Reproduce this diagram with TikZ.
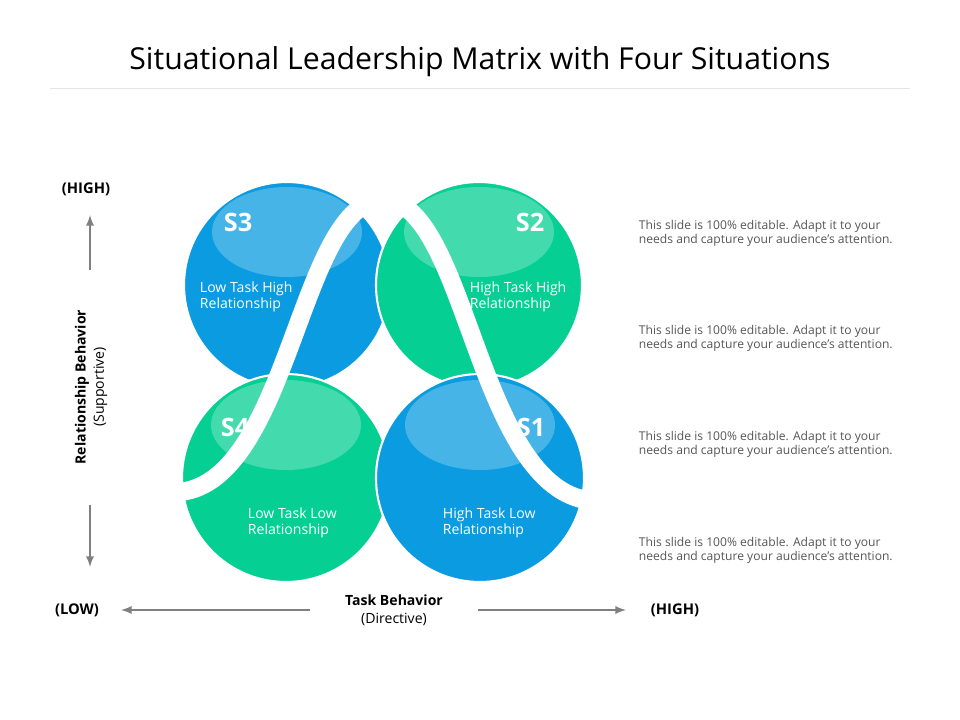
\documentclass[tikz,border=0pt]{standalone}
\usepackage{fontspec}
\setmainfont{Open Sans}
\usetikzlibrary{positioning}
\definecolor{sblue}{HTML}{0A9BE0}
\definecolor{sgreen}{HTML}{05CF92}
\definecolor{txtgray}{HTML}{555555}
\tikzset{
    blob/.style ={
        draw=white,
        line width=1.5pt
    },
    tag/.style ={
        text=white,
        font=\bfseries\fontsize{18}{20}\selectfont
    },
    label/.style ={
        text=white,
        align=left,
        anchor=north west,
        font=\fontsize{10}{11.5}\selectfont
    },
    note/.style ={
        text=txtgray,
        align=left,
        anchor=north west,
        font=\fontsize{8.6}{10}\selectfont
    },
    axis/.style ={
        draw=gray,
        line width=1.6pt,
        -latex
    }
}
\begin{document}
\begin{tikzpicture}[x=0.025cm,y=-0.025cm]
    \useasboundingbox (0,0) rectangle (960,720);
    \node[font=\fontsize{21.5}{24}\selectfont] (title) at (480,62) {Situational Leadership Matrix with Four Situations};
    \draw[gray!20] (50,88) -- (910,88);
    % circles
    \fill[sblue,blob] (287,285) circle (103);
    \fill[sgreen,blob] (479,285) circle (103);
    \fill[sgreen,blob] (286,478) circle (104);
    \fill[sblue,blob] (480,478) circle (104);
    % gloss
    \fill[white,opacity=0.25] (287,232) ellipse (75 and 45);
    \fill[white,opacity=0.25] (479,232) ellipse (75 and 45);
    \fill[white,opacity=0.25] (286,425) ellipse (75 and 45);
    \fill[white,opacity=0.25] (480,425) ellipse (75 and 45);
    % curve
    \draw[white,line width=13pt] (180,492) .. controls (290,480) and (300,200) .. (383,200)
        .. controls (466,200) and (476,480) .. (586,500);
    % tags
    \node[tag] (s3) at (238,222) {S3};
    \node[tag] (s2) at (530,222) {S2};
    \node[tag] (s4) at (235,427) {S4};
    \node[tag] (s1) at (531,427) {S1};
    \node[label] (l3) at (195,277) {Low Task High\\Relationship};
    \node[label] (l2) at (465,277) {High Task High\\Relationship};
    \node[label] (l4) at (243,503) {Low Task Low\\Relationship};
    \node[label] (l1) at (438,503) {High Task Low\\Relationship};
    % notes
    \foreach \y/\n in {215/a,320/b,426/c,532/d}
        \node[note] (n\n) at (634,\y) {This slide is 100\% editable. Adapt it to your\\needs and capture your audience's attention.};
    % axes
    \node[font=\bfseries\fontsize{10.5}{12}\selectfont] (yhigh) at (86,189) {(HIGH)};
    \node[font=\bfseries\fontsize{10.5}{12}\selectfont] (xlow) at (77,610) {(LOW)};
    \node[font=\bfseries\fontsize{10.5}{12}\selectfont] (xhigh) at (675,610) {(HIGH)};
    \node[rotate=90,align=center,font=\fontsize{10}{13}\selectfont] (ylab) at (91,387)
        {\textbf{Relationship Behavior}\\(Supportive)};
    \node[align=center,font=\fontsize{10}{13}\selectfont] (xlab) at (394,610)
        {\textbf{Task Behavior}\\(Directive)};
    \coordinate (yt) at (90,215);
    \coordinate (yb) at (90,567);
    \coordinate (xl) at (121,610);
    \coordinate (xr) at (626,610);
    \draw[axis] (90,270) -- (yt);
    \draw[axis] (90,505) -- (yb);
    \draw[axis] (310,610) -- (xl);
    \draw[axis] (478,610) -- (xr);
\end{tikzpicture}
\end{document}
